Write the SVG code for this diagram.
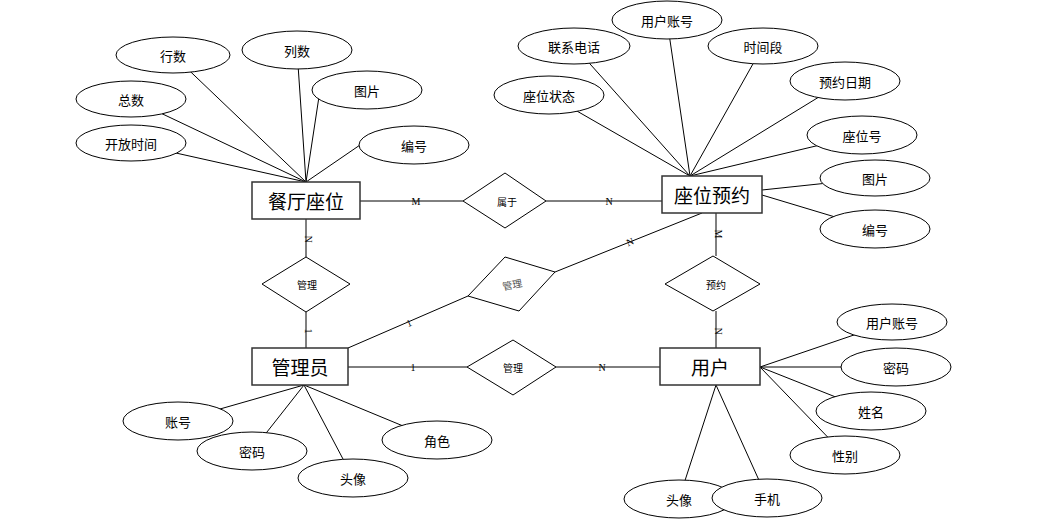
<svg xmlns="http://www.w3.org/2000/svg" width="1045" height="525" viewBox="0 0 1045 525">
<style>
.e{fill:#fff;stroke:#000;stroke-width:1}
.b{fill:#fff;stroke:#333;stroke-width:1.5}
.d{fill:#fff;stroke:#000;stroke-width:1}
.l{stroke:#000;stroke-width:1;fill:none}
text{font-family:"Noto Sans CJK SC","Liberation Sans",sans-serif;text-anchor:middle;dominant-baseline:central}
.t{font-size:13px}
.big{font-size:19px}
.s{font-size:10px}
.c{font-family:"Liberation Serif",serif;font-size:10px}
</style>
<rect width="1045" height="525" fill="#fff"/>
<g id="connectors">
<path class="l" d="M306 182L173 55M306 182L297 50M306 182L131 99M306 182L320 90M306 182L131 143M306 182L360 145"/>
<path class="l" d="M690 176L667 20M690 176L574 46M690 176L763 46M690 176L845 81M690 176L549 95M690 176L862 135M762 190L875 178M762 195L875 229"/>
<path class="l" d="M760 367L892 322M760 367L896 367M760 367L871 411M760 367L845 455M716 385L679 499M716 385L767 498"/>
<path class="l" d="M304 385L178 421M304 385L252 451M304 385L353 478M304 385L437 440"/>
<path class="l" d="M360 201L463 201M546 201L662 201M306 219L306 257M306 312L306 348M716 213L716 256M716 311L716 348M348 367L467 367M556 367L660 367M348 348L468 296M555 272L702 213"/>
<text class="c" x="416" y="201">M</text><text class="c" x="609" y="201">N</text>
<text class="c" x="308" y="239" transform="rotate(90 308 239)">N</text>
<text class="c" x="308" y="331" transform="rotate(90 308 331)">1</text>
<text class="c" x="718" y="234" transform="rotate(90 718 234)">M</text>
<text class="c" x="718" y="331" transform="rotate(90 718 331)">N</text>
<text class="c" x="413" y="367">1</text><text class="c" x="602" y="367">N</text>
<text class="c" x="409" y="323" transform="rotate(-22 409 323)">1</text>
<text class="c" x="630" y="242" transform="rotate(-22 630 242)">N</text>
</g>
<g id="n-canting"><rect class="b" x="252" y="182" width="108" height="37"/><text class="big" x="306" y="200">餐厅座位</text></g>
<g id="n-yuyue"><rect class="b" x="662" y="176" width="100" height="37"/><text class="big" x="712" y="194">座位预约</text></g>
<g id="n-admin"><rect class="b" x="252" y="348" width="96" height="37"/><text class="big" x="300" y="366">管理员</text></g>
<g id="n-user"><rect class="b" x="660" y="348" width="100" height="37"/><text class="big" x="710" y="366">用户</text></g>
<g id="r-shuyu"><polygon class="d" points="505,173 546,201 505,228 463,201"/><text class="s" x="507" y="201">属于</text></g>
<g id="r-guanli1"><polygon class="d" points="306,257 350,284 306,312 262,284"/><text class="s" x="307" y="284">管理</text></g>
<g id="r-yuyue"><polygon class="d" points="713,256 760,284 713,311 665,284"/><text class="s" x="716" y="284">预约</text></g>
<g id="r-guanli2"><polygon class="d" points="513,340 556,367 513,395 467,367"/><text class="s" x="513" y="367">管理</text></g>
<g id="r-guanli3"><polygon class="d" points="505,257 555,272 519,311 468,296"/><text class="s" x="512" y="284" fill="#555" transform="rotate(-12 512 284)">管理</text></g>
<g id="a1"><ellipse class="e" cx="173" cy="55" rx="57" ry="18"/><text class="t" x="173" y="55">行数</text></g>
<g id="a2"><ellipse class="e" cx="297" cy="50" rx="55" ry="19"/><text class="t" x="297" y="50">列数</text></g>
<g id="a3"><ellipse class="e" cx="131" cy="99" rx="55" ry="18"/><text class="t" x="131" y="99">总数</text></g>
<g id="a4"><ellipse class="e" cx="367" cy="90" rx="55" ry="19"/><text class="t" x="367" y="90">图片</text></g>
<g id="a5"><ellipse class="e" cx="131" cy="143" rx="55" ry="18"/><text class="t" x="131" y="143">开放时间</text></g>
<g id="a6"><ellipse class="e" cx="414" cy="145" rx="55" ry="19"/><text class="t" x="414" y="145">编号</text></g>
<g id="b1"><ellipse class="e" cx="667" cy="20" rx="55" ry="19"/><text class="t" x="667" y="20">用户账号</text></g>
<g id="b2"><ellipse class="e" cx="574" cy="46" rx="56" ry="18"/><text class="t" x="574" y="46">联系电话</text></g>
<g id="b3"><ellipse class="e" cx="763" cy="46" rx="55" ry="18"/><text class="t" x="763" y="46">时间段</text></g>
<g id="b4"><ellipse class="e" cx="845" cy="81" rx="55" ry="19"/><text class="t" x="845" y="81">预约日期</text></g>
<g id="b5"><ellipse class="e" cx="549" cy="95" rx="55" ry="19"/><text class="t" x="549" y="95">座位状态</text></g>
<g id="b6"><ellipse class="e" cx="862" cy="135" rx="55" ry="19"/><text class="t" x="862" y="135">座位号</text></g>
<g id="b7"><ellipse class="e" cx="875" cy="178" rx="55" ry="18"/><text class="t" x="875" y="178">图片</text></g>
<g id="b8"><ellipse class="e" cx="875" cy="229" rx="55" ry="19"/><text class="t" x="875" y="229">编号</text></g>
<g id="c1"><ellipse class="e" cx="892" cy="322" rx="55" ry="18"/><text class="t" x="892" y="322">用户账号</text></g>
<g id="c2"><ellipse class="e" cx="896" cy="367" rx="55" ry="19"/><text class="t" x="896" y="367">密码</text></g>
<g id="c3"><ellipse class="e" cx="871" cy="411" rx="55" ry="19"/><text class="t" x="871" y="411">姓名</text></g>
<g id="c4"><ellipse class="e" cx="845" cy="455" rx="55" ry="19"/><text class="t" x="845" y="455">性别</text></g>
<g id="c5"><ellipse class="e" cx="679" cy="499" rx="55" ry="19"/><text class="t" x="679" y="499">头像</text></g>
<g id="c6"><ellipse class="e" cx="767" cy="498" rx="55" ry="19"/><text class="t" x="767" y="498">手机</text></g>
<g id="d1"><ellipse class="e" cx="178" cy="421" rx="55" ry="19"/><text class="t" x="178" y="421">账号</text></g>
<g id="d2"><ellipse class="e" cx="252" cy="451" rx="55" ry="19"/><text class="t" x="252" y="451">密码</text></g>
<g id="d3"><ellipse class="e" cx="353" cy="478" rx="55" ry="19"/><text class="t" x="353" y="478">头像</text></g>
<g id="d4"><ellipse class="e" cx="437" cy="440" rx="55" ry="19"/><text class="t" x="437" y="440">角色</text></g>
</svg>
